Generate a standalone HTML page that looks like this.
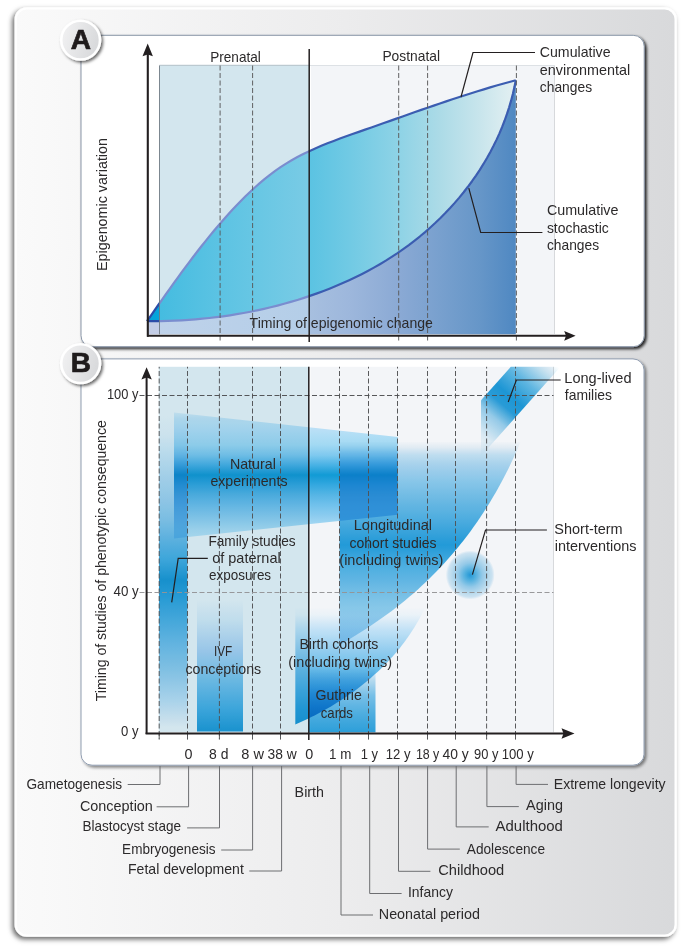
<!DOCTYPE html>
<html><head><meta charset="utf-8"><title>Epigenomic variation timing</title>
<style>
html,body{margin:0;padding:0;background:#fff;}
svg{display:block;}
text{font-family:'Liberation Sans',Arial,sans-serif;font-size:14.4px;fill:#2c2a2b;}
.mb{mix-blend-mode:multiply;}
</style></head><body>
<svg width="685" height="952" viewBox="0 0 685 952">
<defs>
<linearGradient id="gOuter" x1="0" y1="0" x2="1" y2="0">
 <stop offset="0" stop-color="#fafafa"/><stop offset="0.5" stop-color="#ececed"/><stop offset="1" stop-color="#d8d9db"/>
</linearGradient>
<filter id="fOuter" x="-5%" y="-5%" width="110%" height="110%">
 <feDropShadow dx="-2.2" dy="2.5" stdDeviation="2.9" flood-color="#000" flood-opacity="0.6"/>
</filter>
<filter id="fPanel" x="-5%" y="-5%" width="110%" height="110%">
 <feDropShadow dx="2" dy="2" stdDeviation="1.6" flood-color="#000" flood-opacity="0.85"/>
</filter>
<filter id="fPanelB" x="-5%" y="-5%" width="110%" height="110%">
 <feDropShadow dx="2" dy="2" stdDeviation="1.8" flood-color="#000" flood-opacity="0.45"/>
</filter>
<filter id="fCirc" x="-30%" y="-30%" width="160%" height="160%">
 <feDropShadow dx="1.8" dy="1.8" stdDeviation="1.6" flood-color="#000" flood-opacity="0.6"/>
</filter>
<linearGradient id="gCirc" x1="0" y1="0" x2="1" y2="0.3">
 <stop offset="0" stop-color="#f3f3f4"/><stop offset="1" stop-color="#d9dadc"/>
</linearGradient>
<linearGradient id="gMid" gradientUnits="userSpaceOnUse" x1="148" y1="0" x2="516" y2="0">
 <stop offset="0.0000" stop-color="#03a2da"/> <stop offset="0.0304" stop-color="#05a4db"/> <stop offset="0.0321" stop-color="#45bce0"/> <stop offset="0.1957" stop-color="#5cc3e3"/> <stop offset="0.3043" stop-color="#69c7e4"/> <stop offset="0.4380" stop-color="#79cbe5"/> <stop offset="0.4397" stop-color="#5bc3e2"/> <stop offset="0.5489" stop-color="#71cae4"/> <stop offset="0.6848" stop-color="#8fd3e6"/> <stop offset="0.7935" stop-color="#acdbe7"/> <stop offset="0.9022" stop-color="#c8e5ec"/> <stop offset="1.0000" stop-color="#e4f0f2"/>
</linearGradient>
<linearGradient id="gLow" gradientUnits="userSpaceOnUse" x1="148" y1="0" x2="516" y2="0">
 <stop offset="0.0000" stop-color="#c3cde6"/> <stop offset="0.0304" stop-color="#c3cde6"/> <stop offset="0.0321" stop-color="#bfd2ea"/> <stop offset="0.4380" stop-color="#b4cee8"/> <stop offset="0.4397" stop-color="#a7bfdf"/> <stop offset="0.5489" stop-color="#9db7dc"/> <stop offset="0.6848" stop-color="#8aa9d4"/> <stop offset="0.7935" stop-color="#78a0ce"/> <stop offset="0.9022" stop-color="#6696c8"/> <stop offset="1.0000" stop-color="#4f88c2"/>
</linearGradient>


<linearGradient id="gNat" gradientUnits="userSpaceOnUse" x1="0" y1="412" x2="0" y2="540">
 <stop offset="0.0000" stop-color="#e8f6fd"/> <stop offset="0.0469" stop-color="#d2eefc"/> <stop offset="0.1406" stop-color="#c2e9fd"/> <stop offset="0.2578" stop-color="#aae2fa"/> <stop offset="0.3359" stop-color="#86d2f6"/> <stop offset="0.4141" stop-color="#4cb9ec"/> <stop offset="0.4922" stop-color="#12a1db"/> <stop offset="0.5703" stop-color="#36afe7"/> <stop offset="0.6484" stop-color="#5abdec"/> <stop offset="0.7266" stop-color="#76c9f3"/> <stop offset="0.8047" stop-color="#91d4f6"/> <stop offset="0.9219" stop-color="#bae7fb"/> <stop offset="1.0000" stop-color="#cceefd"/>
</linearGradient>
<linearGradient id="gFam" gradientUnits="userSpaceOnUse" x1="0" y1="416" x2="0" y2="727">
 <stop offset="0.0000" stop-color="#ffffff"/> <stop offset="0.0611" stop-color="#f6fbfe"/> <stop offset="0.1093" stop-color="#e3f4fd"/> <stop offset="0.1897" stop-color="#c5e6f9"/> <stop offset="0.2701" stop-color="#acdbf6"/> <stop offset="0.3344" stop-color="#93d2f3"/> <stop offset="0.3987" stop-color="#6dc3ee"/> <stop offset="0.4630" stop-color="#48b7ea"/> <stop offset="0.5273" stop-color="#1ba0db"/> <stop offset="0.5916" stop-color="#33ade5"/> <stop offset="0.6559" stop-color="#52b9ea"/> <stop offset="0.7363" stop-color="#78c8f0"/> <stop offset="0.8167" stop-color="#9bd5f4"/> <stop offset="0.9132" stop-color="#cbe9fb"/> <stop offset="0.9775" stop-color="#f2f8fd"/> <stop offset="1.0000" stop-color="#ffffff"/>
</linearGradient>
<linearGradient id="gIVF" gradientUnits="userSpaceOnUse" x1="0" y1="600" x2="0" y2="731">
 <stop offset="0.0000" stop-color="#ffffff"/> <stop offset="0.1527" stop-color="#e8f5fd"/> <stop offset="0.3817" stop-color="#b9dcf9"/> <stop offset="0.6107" stop-color="#80ccf2"/> <stop offset="0.8397" stop-color="#46b6ea"/> <stop offset="1.0000" stop-color="#1fa2dd"/>
</linearGradient>
<linearGradient id="gLong" gradientUnits="userSpaceOnUse" x1="0" y1="441" x2="0" y2="650">
 <stop offset="0.0000" stop-color="#ffffff"/> <stop offset="0.0287" stop-color="#eef6fa"/> <stop offset="0.0670" stop-color="#c8e6f6"/> <stop offset="0.1148" stop-color="#aedaf3"/> <stop offset="0.1866" stop-color="#91cff0"/> <stop offset="0.2823" stop-color="#70c1ea"/> <stop offset="0.3780" stop-color="#50b3e6"/> <stop offset="0.4976" stop-color="#23a0de"/> <stop offset="0.5933" stop-color="#4eb4e7"/> <stop offset="0.6651" stop-color="#65bdea"/> <stop offset="0.7368" stop-color="#7dc8ed"/> <stop offset="0.8086" stop-color="#91d1f0"/> <stop offset="0.8804" stop-color="#a3d8f2"/> <stop offset="1.0000" stop-color="#b4def4"/>
</linearGradient>
<linearGradient id="gBirth" gradientUnits="userSpaceOnUse" x1="0" y1="607" x2="0" y2="725">
 <stop offset="0.0000" stop-color="#ffffff"/> <stop offset="0.0678" stop-color="#f6fcff"/> <stop offset="0.1949" stop-color="#cbebfd"/> <stop offset="0.3644" stop-color="#9bd6f6"/> <stop offset="0.5339" stop-color="#6dc3ef"/> <stop offset="0.7034" stop-color="#46b4ea"/> <stop offset="0.8729" stop-color="#25a5e2"/> <stop offset="1.0000" stop-color="#1a9fdb"/>
</linearGradient>
<linearGradient id="gGuth" gradientUnits="userSpaceOnUse" x1="0" y1="668" x2="0" y2="732">
 <stop offset="0.0000" stop-color="#ffffff"/> <stop offset="0.1875" stop-color="#bfe3f6"/> <stop offset="0.4219" stop-color="#7ec8ee"/> <stop offset="0.7344" stop-color="#4fb3e6"/> <stop offset="1.0000" stop-color="#2fa6e0"/>
</linearGradient>

<linearGradient id="gLL" gradientUnits="userSpaceOnUse" x1="557" y1="366" x2="481" y2="456">
 <stop offset="0" stop-color="#ffffff"/><stop offset="0.1" stop-color="#d0eaf6"/><stop offset="0.28" stop-color="#62bde8"/><stop offset="0.45" stop-color="#1e9cda"/><stop offset="0.55" stop-color="#2aa1dc"/><stop offset="0.68" stop-color="#9dd3ef"/><stop offset="0.85" stop-color="#e4f3fa"/><stop offset="1" stop-color="#ffffff"/>
</linearGradient>
<radialGradient id="gST" cx="470.2" cy="575" r="24.5" gradientUnits="userSpaceOnUse">
 <stop offset="0" stop-color="#259edc"/><stop offset="0.22" stop-color="#55b7e6"/><stop offset="0.5" stop-color="#9cd2ef"/><stop offset="0.8" stop-color="#c9e6f5"/><stop offset="0.9" stop-color="#d6ecf8"/><stop offset="1" stop-color="#ffffff"/>
</radialGradient>
<linearGradient id="gStroke" gradientUnits="userSpaceOnUse" x1="148" y1="0" x2="516" y2="0">
 <stop offset="0" stop-color="#2b4ca8"/><stop offset="0.0304" stop-color="#2b4ca8"/><stop offset="0.0321" stop-color="#7a8dcf"/><stop offset="0.4380" stop-color="#7a8dcf"/><stop offset="0.4397" stop-color="#3b5db1"/><stop offset="1" stop-color="#3b5db1"/>
</linearGradient>
</defs>

<rect x="15.75" y="8.35" width="659.9" height="927.3" rx="11" fill="url(#gOuter)" stroke="#fff" stroke-width="2.3" filter="url(#fOuter)"/>
<rect x="81" y="35.3" width="563.2" height="311.4" rx="11" fill="#fff" stroke="#8a97a8" stroke-width="1" filter="url(#fPanel)"/>
<rect x="81" y="358.9" width="563" height="406.3" rx="11" fill="#fff" stroke="#909db0" stroke-width="1" filter="url(#fPanelB)"/>
<rect x="311" y="65.5" width="243.5" height="268.5" fill="#f3f5f8"/>
<line x1="309.5" y1="65.5" x2="554.5" y2="65.5" stroke="#dde1e5" stroke-width="1"/>
<line x1="554.5" y1="65.5" x2="554.5" y2="334" stroke="#d7d9dc" stroke-width="1"/>
<rect x="159.5" y="65.5" width="150" height="268.5" fill="#d3e6ee"/>
<line x1="159.5" y1="65.3" x2="309.5" y2="65.3" stroke="#a9b8c1" stroke-width="0.9"/>
<path d="M147.00,321.20 L150.75,315.80 L154.52,310.41 L158.30,305.00 L162.09,299.60 L165.90,294.20 L169.73,288.81 L173.58,283.42 L177.46,278.05 L181.37,272.70 L185.30,267.36 L189.27,262.05 L193.28,256.76 L197.33,251.50 L201.41,246.27 L205.55,241.08 L209.73,235.93 L213.96,230.82 L218.24,225.75 L222.58,220.74 L226.98,215.77 L231.44,210.86 L235.96,206.02 L240.56,201.24 L245.23,196.54 L249.98,191.94 L254.82,187.45 L259.75,183.09 L264.79,178.86 L269.93,174.78 L275.18,170.86 L280.55,167.12 L286.05,163.57 L291.67,160.21 L297.41,157.03 L303.26,154.03 L309.20,151.17 L315.22,148.44 L321.32,145.84 L327.48,143.34 L333.69,140.93 L339.93,138.59 L346.21,136.31 L352.50,134.07 L358.80,131.86 L365.10,129.66 L371.38,127.46 L377.65,125.26 L383.90,123.05 L390.15,120.85 L396.38,118.65 L402.61,116.45 L408.83,114.26 L415.05,112.08 L421.27,109.91 L427.49,107.76 L433.72,105.62 L439.95,103.50 L446.18,101.40 L452.43,99.32 L458.68,97.26 L464.95,95.23 L471.24,93.23 L477.54,91.26 L483.86,89.33 L490.20,87.42 L496.56,85.56 L502.94,83.73 L509.36,81.94 L515.80,80.20 L515.80,80.20 L514.43,87.09 L512.86,93.91 L511.10,100.67 L509.14,107.35 L506.99,113.96 L504.66,120.50 L502.15,126.95 L499.46,133.33 L496.60,139.63 L493.56,145.84 L490.36,151.97 L487.00,158.01 L483.48,163.95 L479.81,169.81 L475.99,175.57 L472.02,181.23 L467.90,186.80 L463.65,192.26 L459.26,197.62 L454.75,202.88 L450.10,208.02 L445.33,213.06 L440.44,217.99 L435.44,222.80 L430.32,227.49 L425.10,232.07 L419.77,236.53 L414.34,240.86 L408.82,245.07 L403.20,249.15 L397.49,253.11 L391.70,256.93 L385.83,260.63 L379.88,264.19 L373.86,267.64 L367.77,270.96 L361.62,274.16 L355.40,277.24 L349.14,280.20 L342.82,283.05 L336.45,285.79 L330.04,288.42 L323.58,290.93 L317.09,293.34 L310.56,295.64 L303.99,297.84 L297.39,299.93 L290.75,301.91 L284.09,303.80 L277.40,305.58 L270.69,307.27 L263.95,308.85 L257.19,310.33 L250.40,311.72 L243.60,313.01 L236.77,314.20 L229.93,315.29 L223.07,316.29 L216.20,317.20 L209.31,318.01 L202.42,318.72 L195.51,319.35 L188.59,319.88 L181.67,320.33 L174.74,320.68 L167.81,320.94 L160.87,321.12 L153.94,321.20 L147.00,321.20 Z" fill="url(#gMid)"/>
<path d="M147.00,321.20 L153.94,321.20 L160.87,321.12 L167.81,320.94 L174.74,320.68 L181.67,320.33 L188.59,319.88 L195.51,319.35 L202.42,318.72 L209.31,318.01 L216.20,317.20 L223.07,316.29 L229.93,315.29 L236.77,314.20 L243.60,313.01 L250.40,311.72 L257.19,310.33 L263.95,308.85 L270.69,307.27 L277.40,305.58 L284.09,303.80 L290.75,301.91 L297.39,299.93 L303.99,297.84 L310.56,295.64 L317.09,293.34 L323.58,290.93 L330.04,288.42 L336.45,285.79 L342.82,283.05 L349.14,280.20 L355.40,277.24 L361.62,274.16 L367.77,270.96 L373.86,267.64 L379.88,264.19 L385.83,260.63 L391.70,256.93 L397.49,253.11 L403.20,249.15 L408.82,245.07 L414.34,240.86 L419.77,236.53 L425.10,232.07 L430.32,227.49 L435.44,222.80 L440.44,217.99 L445.33,213.06 L450.10,208.02 L454.75,202.88 L459.26,197.62 L463.65,192.26 L467.90,186.80 L472.02,181.23 L475.99,175.57 L479.81,169.81 L483.48,163.95 L487.00,158.01 L490.36,151.97 L493.56,145.84 L496.60,139.63 L499.46,133.33 L502.15,126.95 L504.66,120.50 L506.99,113.96 L509.14,107.35 L511.10,100.67 L512.86,93.91 L514.43,87.09 L515.80,80.20 L515.8,334.3 L147,334.3 Z" fill="url(#gLow)"/>
<path d="M147.00,321.20 L150.75,315.80 L154.52,310.41 L158.30,305.00 L162.09,299.60 L165.90,294.20 L169.73,288.81 L173.58,283.42 L177.46,278.05 L181.37,272.70 L185.30,267.36 L189.27,262.05 L193.28,256.76 L197.33,251.50 L201.41,246.27 L205.55,241.08 L209.73,235.93 L213.96,230.82 L218.24,225.75 L222.58,220.74 L226.98,215.77 L231.44,210.86 L235.96,206.02 L240.56,201.24 L245.23,196.54 L249.98,191.94 L254.82,187.45 L259.75,183.09 L264.79,178.86 L269.93,174.78 L275.18,170.86 L280.55,167.12 L286.05,163.57 L291.67,160.21 L297.41,157.03 L303.26,154.03 L309.20,151.17 L315.22,148.44 L321.32,145.84 L327.48,143.34 L333.69,140.93 L339.93,138.59 L346.21,136.31 L352.50,134.07 L358.80,131.86 L365.10,129.66 L371.38,127.46 L377.65,125.26 L383.90,123.05 L390.15,120.85 L396.38,118.65 L402.61,116.45 L408.83,114.26 L415.05,112.08 L421.27,109.91 L427.49,107.76 L433.72,105.62 L439.95,103.50 L446.18,101.40 L452.43,99.32 L458.68,97.26 L464.95,95.23 L471.24,93.23 L477.54,91.26 L483.86,89.33 L490.20,87.42 L496.56,85.56 L502.94,83.73 L509.36,81.94 L515.80,80.20" fill="none" stroke="url(#gStroke)" stroke-width="2.2" stroke-linejoin="round"/>
<path d="M147.00,321.20 L153.94,321.20 L160.87,321.12 L167.81,320.94 L174.74,320.68 L181.67,320.33 L188.59,319.88 L195.51,319.35 L202.42,318.72 L209.31,318.01 L216.20,317.20 L223.07,316.29 L229.93,315.29 L236.77,314.20 L243.60,313.01 L250.40,311.72 L257.19,310.33 L263.95,308.85 L270.69,307.27 L277.40,305.58 L284.09,303.80 L290.75,301.91 L297.39,299.93 L303.99,297.84 L310.56,295.64 L317.09,293.34 L323.58,290.93 L330.04,288.42 L336.45,285.79 L342.82,283.05 L349.14,280.20 L355.40,277.24 L361.62,274.16 L367.77,270.96 L373.86,267.64 L379.88,264.19 L385.83,260.63 L391.70,256.93 L397.49,253.11 L403.20,249.15 L408.82,245.07 L414.34,240.86 L419.77,236.53 L425.10,232.07 L430.32,227.49 L435.44,222.80 L440.44,217.99 L445.33,213.06 L450.10,208.02 L454.75,202.88 L459.26,197.62 L463.65,192.26 L467.90,186.80 L472.02,181.23 L475.99,175.57 L479.81,169.81 L483.48,163.95 L487.00,158.01 L490.36,151.97 L493.56,145.84 L496.60,139.63 L499.46,133.33 L502.15,126.95 L504.66,120.50 L506.99,113.96 L509.14,107.35 L511.10,100.67 L512.86,93.91 L514.43,87.09 L515.80,80.20" fill="none" stroke="url(#gStroke)" stroke-width="2.2" stroke-linejoin="round"/>
<line x1="159.5" y1="65.5" x2="159.5" y2="334.3" stroke="#6f7a85" stroke-width="0.9"/>
<line x1="220.1" y1="65.5" x2="220.1" y2="341.5" stroke="#58595b" stroke-width="0.95" stroke-dasharray="5,2.5"/>
<line x1="252.6" y1="65.5" x2="252.6" y2="341.5" stroke="#58595b" stroke-width="0.95" stroke-dasharray="5,2.5"/>
<line x1="398.7" y1="65.5" x2="398.7" y2="341.5" stroke="#58595b" stroke-width="0.95" stroke-dasharray="5,2.5"/>
<line x1="427.6" y1="65.5" x2="427.6" y2="341.5" stroke="#58595b" stroke-width="0.95" stroke-dasharray="5,2.5"/>
<line x1="516.4" y1="65.5" x2="516.4" y2="341.5" stroke="#58595b" stroke-width="0.95" stroke-dasharray="5,2.5"/>
<line x1="309.2" y1="49" x2="309.2" y2="342" stroke="#231f20" stroke-width="1.5"/>
<line x1="147.8" y1="53" x2="147.8" y2="336.8" stroke="#231f20" stroke-width="2.1"/>
<path d="M147.7,43.6 L152.9,56.3 L147.7,54.6 L142.5,56.3 Z" fill="#231f20"/>
<line x1="147" y1="335.8" x2="566" y2="335.8" stroke="#231f20" stroke-width="2"/>
<path d="M575.6,335.8 L564.2,340.7 L566,335.8 L564.2,330.9 Z" fill="#231f20"/>
<polyline points="461,97 473,52.5 535,52.5" fill="none" stroke="#231f20" stroke-width="1.2"/>
<polyline points="468.8,188.2 480.7,232.5 542.4,232.5" fill="none" stroke="#231f20" stroke-width="1.2"/>
<text x="210.2" y="61.6" textLength="50.6" lengthAdjust="spacingAndGlyphs">Prenatal</text>
<text x="382.4" y="61.0" textLength="57.6" lengthAdjust="spacingAndGlyphs">Postnatal</text>
<text x="539.8" y="56.9" textLength="70.7" lengthAdjust="spacingAndGlyphs">Cumulative</text>
<text x="539.8" y="74.5" textLength="90.3" lengthAdjust="spacingAndGlyphs">environmental</text>
<text x="539.8" y="91.7" textLength="52.3" lengthAdjust="spacingAndGlyphs">changes</text>
<text x="546.9" y="215.1" textLength="71.6" lengthAdjust="spacingAndGlyphs">Cumulative</text>
<text x="546.9" y="232.7" textLength="61.8" lengthAdjust="spacingAndGlyphs">stochastic</text>
<text x="546.9" y="249.9" textLength="52.2" lengthAdjust="spacingAndGlyphs">changes</text>
<text x="249.6" y="327.5" textLength="183.3" lengthAdjust="spacingAndGlyphs">Timing of epigenomic change</text>
<text transform="translate(107,271) rotate(-90)" x="0" y="0" textLength="133" lengthAdjust="spacingAndGlyphs">Epigenomic variation</text>
<rect x="158.8" y="366.8" width="150.2" height="365.5" fill="#d3e6ee"/>
<rect x="310.5" y="366.8" width="243" height="365.5" fill="#f3f5f8"/>
<line x1="553.5" y1="366.8" x2="553.5" y2="732.3" stroke="#d7d9dc" stroke-width="1"/>
<g>
<path class="mb" d="M174,412.6 L397.8,436.9 L397.8,514.7 L174,538.5 Z" fill="url(#gNat)"/>
<rect class="mb" x="159" y="416" width="28.4" height="311" fill="url(#gFam)"/>
<rect class="mb" x="197" y="600" width="46" height="131.5" fill="url(#gIVF)"/>
<path class="mb" d="M339.6,442 L520.40,442.00 L518.20,447.25 L515.94,452.47 L513.61,457.65 L511.21,462.81 L508.74,467.93 L506.21,473.01 L503.61,478.06 L500.95,483.07 L498.22,488.05 L495.42,492.98 L492.56,497.87 L489.64,502.72 L486.65,507.53 L483.59,512.29 L480.47,517.01 L477.29,521.69 L474.04,526.31 L470.73,530.89 L467.36,535.42 L463.93,539.90 L460.43,544.33 L456.87,548.71 L453.24,553.03 L449.56,557.30 L445.82,561.52 L442.01,565.68 L438.14,569.78 L434.21,573.82 L430.23,577.81 L426.18,581.73 L422.07,585.59 L417.90,589.39 L413.68,593.13 L409.39,596.80 L405.05,600.41 L400.66,603.96 L396.21,607.45 L391.72,610.88 L387.18,614.25 L382.59,617.56 L377.96,620.82 L373.28,624.02 L368.57,627.17 L363.82,630.26 L359.04,633.31 L354.22,636.30 L349.37,639.24 L344.49,642.14 L339.59,644.99 Z" fill="url(#gLong)"/>
<path class="mb" d="M295.3,608.2 L424.80,608.20 L423.19,611.51 L421.53,614.78 L419.81,618.02 L418.03,621.21 L416.20,624.36 L414.31,627.48 L412.37,630.55 L410.38,633.58 L408.33,636.58 L406.24,639.53 L404.10,642.45 L401.91,645.32 L399.67,648.16 L397.38,650.96 L395.05,653.72 L392.67,656.43 L390.25,659.11 L387.79,661.75 L385.28,664.35 L382.74,666.92 L380.15,669.44 L377.52,671.92 L374.86,674.37 L372.16,676.77 L369.42,679.14 L366.65,681.47 L363.84,683.75 L361.00,686.01 L358.13,688.22 L355.23,690.39 L352.29,692.52 L349.33,694.62 L346.33,696.68 L343.31,698.70 L340.26,700.68 L337.19,702.62 L334.09,704.52 L330.97,706.39 L327.82,708.22 L324.65,710.00 L321.46,711.76 L318.25,713.47 L315.03,715.14 L311.78,716.78 L308.51,718.38 L305.23,719.94 L301.94,721.46 L298.62,722.95 L295.30,724.40 Z" fill="url(#gBirth)"/>
<rect class="mb" x="309" y="668" width="66.5" height="64.3" fill="url(#gGuth)"/>
<path class="mb" d="M481,400.3 L510.8,366.8 L560.5,366.8 L481,456 Z" fill="url(#gLL)"/>
<circle class="mb" cx="470.2" cy="575" r="24.5" fill="url(#gST)"/>
</g>
<line x1="159.2" y1="366.8" x2="159.2" y2="739" stroke="#505153" stroke-width="0.95" stroke-dasharray="5,2.5" stroke-dashoffset="3.3"/>
<line x1="187.5" y1="366.8" x2="187.5" y2="739" stroke="#505153" stroke-width="0.95" stroke-dasharray="5,2.5" stroke-dashoffset="3.3"/>
<line x1="219.4" y1="366.8" x2="219.4" y2="739" stroke="#505153" stroke-width="0.95" stroke-dasharray="5,2.5" stroke-dashoffset="3.3"/>
<line x1="252.5" y1="366.8" x2="252.5" y2="739" stroke="#505153" stroke-width="0.95" stroke-dasharray="5,2.5" stroke-dashoffset="3.3"/>
<line x1="280.5" y1="366.8" x2="280.5" y2="739" stroke="#505153" stroke-width="0.95" stroke-dasharray="5,2.5" stroke-dashoffset="3.3"/>
<line x1="339.5" y1="366.8" x2="339.5" y2="739" stroke="#505153" stroke-width="0.95" stroke-dasharray="5,2.5" stroke-dashoffset="3.3"/>
<line x1="368.5" y1="366.8" x2="368.5" y2="739" stroke="#505153" stroke-width="0.95" stroke-dasharray="5,2.5" stroke-dashoffset="3.3"/>
<line x1="397.5" y1="366.8" x2="397.5" y2="739" stroke="#505153" stroke-width="0.95" stroke-dasharray="5,2.5" stroke-dashoffset="3.3"/>
<line x1="427.5" y1="366.8" x2="427.5" y2="739" stroke="#505153" stroke-width="0.95" stroke-dasharray="5,2.5" stroke-dashoffset="3.3"/>
<line x1="455.5" y1="366.8" x2="455.5" y2="739" stroke="#505153" stroke-width="0.95" stroke-dasharray="5,2.5" stroke-dashoffset="3.3"/>
<line x1="486.6" y1="366.8" x2="486.6" y2="739" stroke="#505153" stroke-width="0.95" stroke-dasharray="5,2.5" stroke-dashoffset="3.3"/>
<line x1="515.5" y1="366.8" x2="515.5" y2="739" stroke="#505153" stroke-width="0.95" stroke-dasharray="5,2.5" stroke-dashoffset="3.3"/>
<line x1="159.2" y1="733" x2="159.2" y2="739.6" stroke="#505153" stroke-width="0.95"/>
<line x1="187.5" y1="733" x2="187.5" y2="739.6" stroke="#505153" stroke-width="0.95"/>
<line x1="219.4" y1="733" x2="219.4" y2="739.6" stroke="#505153" stroke-width="0.95"/>
<line x1="252.5" y1="733" x2="252.5" y2="739.6" stroke="#505153" stroke-width="0.95"/>
<line x1="280.5" y1="733" x2="280.5" y2="739.6" stroke="#505153" stroke-width="0.95"/>
<line x1="339.5" y1="733" x2="339.5" y2="739.6" stroke="#505153" stroke-width="0.95"/>
<line x1="368.5" y1="733" x2="368.5" y2="739.6" stroke="#505153" stroke-width="0.95"/>
<line x1="397.5" y1="733" x2="397.5" y2="739.6" stroke="#505153" stroke-width="0.95"/>
<line x1="427.5" y1="733" x2="427.5" y2="739.6" stroke="#505153" stroke-width="0.95"/>
<line x1="455.5" y1="733" x2="455.5" y2="739.6" stroke="#505153" stroke-width="0.95"/>
<line x1="486.6" y1="733" x2="486.6" y2="739.6" stroke="#505153" stroke-width="0.95"/>
<line x1="515.5" y1="733" x2="515.5" y2="739.6" stroke="#505153" stroke-width="0.95"/>
<line x1="139.5" y1="395.5" x2="553.5" y2="395.5" stroke="#4d4e50" stroke-width="0.95" stroke-dasharray="5,2.5"/>
<line x1="139.5" y1="592.5" x2="553.5" y2="592.5" stroke="#939496" stroke-width="0.95" stroke-dasharray="5,2.5"/>
<line x1="308.8" y1="366.8" x2="308.8" y2="740" stroke="#231f20" stroke-width="1.5"/>
<line x1="146.6" y1="376" x2="146.6" y2="734" stroke="#231f20" stroke-width="2"/>
<path d="M146.6,367.2 L151.8,379.5 L146.6,377.5 L141.4,379.5 Z" fill="#231f20"/>
<line x1="145.6" y1="733.5" x2="565" y2="733.5" stroke="#231f20" stroke-width="2.2"/>
<path d="M574.5,733.5 L561.5,738.7 L563.5,733.5 L561.5,728.3 Z" fill="#231f20"/>
<polyline points="171.7,602.4 178.2,558.3 207.8,558.3" fill="none" stroke="#231f20" stroke-width="1.2"/>
<polyline points="472.4,574.6 485.5,530 546.9,530" fill="none" stroke="#231f20" stroke-width="1.2"/>
<polyline points="508.2,402 516.4,380 560.7,380" fill="none" stroke="#231f20" stroke-width="1.2"/>
<text x="106.9" y="399.4" textLength="31.5" lengthAdjust="spacingAndGlyphs">100 y</text>
<text x="113.5" y="596.0" textLength="25.3" lengthAdjust="spacingAndGlyphs">40 y</text>
<text x="121.0" y="736.3" textLength="17.5" lengthAdjust="spacingAndGlyphs">0 y</text>
<text transform="translate(106,701.2) rotate(-90)" x="0" y="0" textLength="281" lengthAdjust="spacingAndGlyphs">Timing of studies of phenotypic consequence</text>
<text x="229.9" y="469.3" textLength="45.9" lengthAdjust="spacingAndGlyphs">Natural</text>
<text x="210.4" y="486.2" textLength="77.1" lengthAdjust="spacingAndGlyphs">experiments</text>
<text x="208.4" y="545.6" textLength="87.3" lengthAdjust="spacingAndGlyphs">Family studies</text>
<text x="212.2" y="563.2" textLength="68.5" lengthAdjust="spacingAndGlyphs">of paternal</text>
<text x="209.0" y="580.4" textLength="62.1" lengthAdjust="spacingAndGlyphs">exposures</text>
<text x="213.9" y="655.5" textLength="18.3" lengthAdjust="spacingAndGlyphs">IVF</text>
<text x="185.4" y="673.5" textLength="75.8" lengthAdjust="spacingAndGlyphs">conceptions</text>
<text x="353.8" y="530.4" textLength="78.2" lengthAdjust="spacingAndGlyphs">Longitudinal</text>
<text x="349.4" y="547.9" textLength="87.2" lengthAdjust="spacingAndGlyphs">cohort studies</text>
<text x="339.3" y="564.9" textLength="104.0" lengthAdjust="spacingAndGlyphs">(including twins)</text>
<text x="299.4" y="649.3" textLength="79.0" lengthAdjust="spacingAndGlyphs">Birth cohorts</text>
<text x="288.3" y="666.8" textLength="103.8" lengthAdjust="spacingAndGlyphs">(including twins)</text>
<text x="315.4" y="700.1" textLength="46.4" lengthAdjust="spacingAndGlyphs">Guthrie</text>
<text x="320.7" y="717.6" textLength="32.3" lengthAdjust="spacingAndGlyphs">cards</text>
<text x="564.3" y="383.4" textLength="67.2" lengthAdjust="spacingAndGlyphs">Long-lived</text>
<text x="564.8" y="400.0" textLength="47.2" lengthAdjust="spacingAndGlyphs">families</text>
<text x="554.3" y="533.7" textLength="68.4" lengthAdjust="spacingAndGlyphs">Short-term</text>
<text x="554.8" y="550.6" textLength="81.8" lengthAdjust="spacingAndGlyphs">interventions</text>
<text x="184.5" y="758.5" textLength="8.0" lengthAdjust="spacingAndGlyphs">0</text>
<text x="209.1" y="758.5" textLength="19.4" lengthAdjust="spacingAndGlyphs">8 d</text>
<text x="241.3" y="758.5" textLength="22.7" lengthAdjust="spacingAndGlyphs">8 w</text>
<text x="267.6" y="758.5" textLength="29.2" lengthAdjust="spacingAndGlyphs">38 w</text>
<text x="305.3" y="758.5" textLength="8.0" lengthAdjust="spacingAndGlyphs">0</text>
<text x="329.1" y="758.5" textLength="22.3" lengthAdjust="spacingAndGlyphs">1 m</text>
<text x="360.7" y="758.5" textLength="17.3" lengthAdjust="spacingAndGlyphs">1 y</text>
<text x="385.8" y="758.5" textLength="24.7" lengthAdjust="spacingAndGlyphs">12 y</text>
<text x="415.9" y="758.5" textLength="23.4" lengthAdjust="spacingAndGlyphs">18 y</text>
<text x="442.5" y="758.5" textLength="26.3" lengthAdjust="spacingAndGlyphs">40 y</text>
<text x="474.1" y="758.5" textLength="24.4" lengthAdjust="spacingAndGlyphs">90 y</text>
<text x="501.7" y="758.5" textLength="32.1" lengthAdjust="spacingAndGlyphs">100 y</text>
<polyline points="160.0,766 160.0,784.5 127.7,784.5" fill="none" stroke="#6d6e71" stroke-width="1"/>
<polyline points="188.6,766 188.6,806.8 156.6,806.8" fill="none" stroke="#6d6e71" stroke-width="1"/>
<polyline points="219.5,766 219.5,827.9 187.1,827.9" fill="none" stroke="#6d6e71" stroke-width="1"/>
<polyline points="252.6,766 252.6,850.0 221.2,850.0" fill="none" stroke="#6d6e71" stroke-width="1"/>
<polyline points="281.6,766 281.6,871.0 249.3,871.0" fill="none" stroke="#6d6e71" stroke-width="1"/>
<polyline points="341.0,766 341.0,915.0 373.0,915.0" fill="none" stroke="#6d6e71" stroke-width="1"/>
<polyline points="369.7,766 369.7,893.5 401.6,893.5" fill="none" stroke="#6d6e71" stroke-width="1"/>
<polyline points="398.5,766 398.5,871.3 430.4,871.3" fill="none" stroke="#6d6e71" stroke-width="1"/>
<polyline points="427.6,766 427.6,849.1 459.8,849.1" fill="none" stroke="#6d6e71" stroke-width="1"/>
<polyline points="456.2,766 456.2,826.9 488.7,826.9" fill="none" stroke="#6d6e71" stroke-width="1"/>
<polyline points="486.9,766 486.9,806.6 518.8,806.6" fill="none" stroke="#6d6e71" stroke-width="1"/>
<polyline points="516.1,766 516.1,784.4 548.0,784.4" fill="none" stroke="#6d6e71" stroke-width="1"/>
<text x="26.5" y="788.6" textLength="95.6" lengthAdjust="spacingAndGlyphs">Gametogenesis</text>
<text x="79.9" y="811.0" textLength="73.0" lengthAdjust="spacingAndGlyphs">Conception</text>
<text x="82.4" y="831.4" textLength="98.6" lengthAdjust="spacingAndGlyphs">Blastocyst stage</text>
<text x="122.1" y="853.5" textLength="93.4" lengthAdjust="spacingAndGlyphs">Embryogenesis</text>
<text x="128.0" y="874.4" textLength="115.8" lengthAdjust="spacingAndGlyphs">Fetal development</text>
<text x="294.6" y="796.6" textLength="29.4" lengthAdjust="spacingAndGlyphs">Birth</text>
<text x="378.8" y="918.5" textLength="101.2" lengthAdjust="spacingAndGlyphs">Neonatal period</text>
<text x="408.0" y="897.1" textLength="44.9" lengthAdjust="spacingAndGlyphs">Infancy</text>
<text x="438.2" y="874.9" textLength="66.1" lengthAdjust="spacingAndGlyphs">Childhood</text>
<text x="466.8" y="853.5" textLength="78.2" lengthAdjust="spacingAndGlyphs">Adolescence</text>
<text x="495.6" y="831.0" textLength="67.3" lengthAdjust="spacingAndGlyphs">Adulthood</text>
<text x="526.1" y="810.0" textLength="36.9" lengthAdjust="spacingAndGlyphs">Aging</text>
<text x="553.8" y="788.6" textLength="111.8" lengthAdjust="spacingAndGlyphs">Extreme longevity</text>
<g filter="url(#fCirc)"><circle cx="80.6" cy="40.1" r="19.4" fill="url(#gCirc)" stroke="#fff" stroke-width="2.6"/></g>
<text x="80.9" y="48.6" text-anchor="middle" style="font-size:28px;font-weight:bold;fill:#1f1b1c;stroke:#1f1b1c;stroke-width:0.7px">A</text>
<g filter="url(#fCirc)"><circle cx="80.6" cy="363.6" r="19.4" fill="url(#gCirc)" stroke="#fff" stroke-width="2.6"/></g>
<text x="80.9" y="372.1" text-anchor="middle" style="font-size:28px;font-weight:bold;fill:#1f1b1c;stroke:#1f1b1c;stroke-width:0.7px">B</text>
</svg></body></html>
